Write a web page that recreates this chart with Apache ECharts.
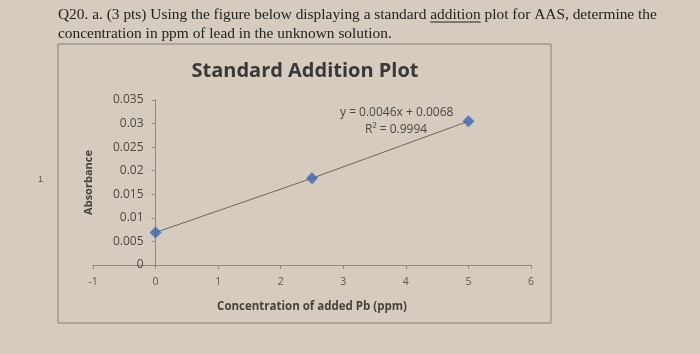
<!DOCTYPE html>
<html>
<head>
<meta charset="utf-8">
<script src="https://cdn.jsdelivr.net/npm/echarts@6/dist/echarts.min.js"></script>
<style>
html,body{margin:0;padding:0;background:#d5ccbf;}
#main{width:700px;height:354px;}
</style>
</head>
<body>
<div id="main"></div>
<script>
const concentration = [0, 2.5, 5];
const absorbance = [0.0069, 0.0184, 0.0305];
const xTicks = [-1, 0, 1, 2, 3, 4, 5, 6];
const yTicks = [0, 0.005, 0.01, 0.015, 0.02, 0.025, 0.03, 0.035];
const questionPrefix = 'Q20. a. (3 pts) Using the figure below displaying a standard ';
const questionUnderlined = 'addition';
const questionSuffix = ' plot for AAS, determine the';
const questionLine2 = 'concentration in ppm of lead in the unknown solution.';
const chartTitle = 'Standard Addition Plot';
const equationText = 'y = 0.0046x + 0.0068';
const r2Text = 'R² = 0.9994';

const points = concentration.map((c, i) => [c, absorbance[i]]);

const qFont = '15.4px "Liberation Serif"';
const ctx = document.createElement('canvas').getContext('2d');
ctx.font = qFont;
const qLeft = 58;
const ulStart = qLeft + ctx.measureText(questionPrefix).width;
const ulEnd = ulStart + ctx.measureText(questionUnderlined).width;

const gridLeft = 93, gridRight = 169;
const plotW = 700 - gridLeft - gridRight;
const xMin = xTicks[0], xMax = xTicks[xTicks.length - 1];
const yAxisShift = plotW * (0 - xMin) / (xMax - xMin);

const chart = echarts.init(document.getElementById('main'));
chart.setOption({
  backgroundColor: '#d5ccbf',
  animation: false,
  title: {
    text: chartTitle,
    left: 300, top: 56, textAlign: 'center',
    textStyle: {fontFamily: 'Open Sans', fontWeight: 'bold', fontSize: 20, color: '#3a3836'}
  },
  grid: {left: gridLeft, right: gridRight, top: 100, bottom: 89},
  xAxis: {
    type: 'value', min: xMin, max: xMax, interval: 1,
    name: 'Concentration of added Pb (ppm)', nameLocation: 'middle', nameGap: 36,
    nameTextStyle: {fontFamily: 'Open Sans', fontWeight: 'bold', fontSize: 11.5, color: '#45423f'},
    axisLine: {lineStyle: {color: '#8f8880'}},
    axisTick: {show: true, length: 4, lineStyle: {color: '#8f8880'}},
    axisLabel: {fontFamily: 'Open Sans', fontSize: 10.5, color: '#5a5652', margin: 12},
    splitLine: {show: false}
  },
  yAxis: {
    type: 'value', min: yTicks[0], max: yTicks[yTicks.length - 1], interval: 0.005,
    offset: -yAxisShift,
    name: 'Absorbance', nameLocation: 'middle', nameGap: 61,
    nameTextStyle: {fontFamily: 'Open Sans', fontWeight: 'bold', fontSize: 11, color: '#45423f'},
    axisLine: {show: true, onZero: false, lineStyle: {color: '#8f8880'}},
    axisTick: {show: true, length: 4, lineStyle: {color: '#8f8880'}},
    axisLabel: {fontFamily: 'Open Sans', fontSize: 12, color: '#4a4744', margin: 12},
    splitLine: {show: false}
  },
  graphic: [
    {type: 'text', left: qLeft, top: 7, style: {text: questionPrefix + questionUnderlined + questionSuffix, font: qFont, fill: '#222'}},
    {type: 'text', left: qLeft, top: 26, style: {text: questionLine2, font: qFont, fill: '#222'}},
    {type: 'line', shape: {x1: ulStart, y1: 22, x2: ulEnd, y2: 22}, style: {stroke: '#222', lineWidth: 1}},
    {type: 'rect', shape: {x: 58, y: 44, width: 493, height: 279}, style: {fill: 'none', stroke: '#857c76', lineWidth: 1}},
    {type: 'text', left: 38, top: 175, style: {text: '1', fontFamily: 'Liberation Sans', fontSize: 9, fill: '#555'}},
    {type: 'text', left: 340, top: 107, style: {text: equationText, fontFamily: 'Open Sans', fontSize: 12, fill: '#4a4744'}},
    {type: 'text', left: 365, top: 124, style: {text: r2Text, fontFamily: 'Open Sans', fontSize: 12, fill: '#4a4744'}}
  ],
  series: [
    {
      type: 'line', data: points, showSymbol: false, symbol: 'none',
      lineStyle: {color: '#6f655e', width: 1}, z: 2
    },
    {
      type: 'scatter', data: points, symbol: 'diamond', symbolSize: 12,
      itemStyle: {color: '#3d66b0'}, z: 3
    }
  ]
});
</script>
</body>
</html>
